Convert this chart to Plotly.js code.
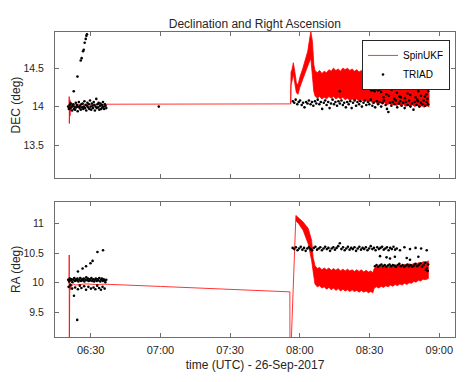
<!DOCTYPE html>
<html>
<head>
<meta charset="utf-8">
<script src="https://cdn.plot.ly/plotly-3.0.1.min.js"></script>
<style>html,body{margin:0;padding:0;background:#fff;}#chart{width:474px;height:382px;}</style>
</head>
<body>
<div id="chart"></div>
<script>
// ---- time values are minutes after 06:00 UTC, 26-Sep-2017 ----
// SpinUKF DEC: single-line part (start transient + flat segment)
const decUkfLineT = [20.7, 20.75, 20.8, 20.85, 20.9, 21.0, 21.1, 21.25, 21.4, 21.6, 21.8, 22.0, 22.5, 23.0, 30.0, 40.0, 60.0, 80.0, 100.0, 115.7, 116.05];
const decUkfLineV = [14.03, 14.13, 13.78, 14.12, 13.82, 14.09, 13.88, 14.07, 13.94, 14.05, 13.99, 14.04, 14.02, 14.03, 14.03, 14.03, 14.03, 14.03, 14.035, 14.035, 14.04];
// SpinUKF DEC: oscillation band envelopes
const decBandUpT = [116.05, 116.2, 116.6, 117.2, 117.8, 118.5, 119.2, 120.0, 121.3, 122.6, 123.4, 124.3, 124.75, 125.4, 126.0,
  126.5, 127.5, 128.5, 129.5, 130.5, 131.5, 132.5, 133.5, 134.5, 135.5, 136.5, 137.5, 138.5, 139.5, 140.5, 141.5, 142.5, 143.5, 144.5, 145.5,
  146.5, 147.5, 148.5, 149.5, 150.5, 151.5, 152.5, 153.5, 154.5, 155.5, 156.5, 157.5, 158.5, 159.5, 160.5, 161.5, 162.5, 163.5, 164.5, 165.5,
  166.5, 167.5, 168.5, 169.5, 170.5, 171.5, 172.5, 173.5, 174.5, 175.6];
const decBandUpV = [14.04, 14.45, 14.48, 14.57, 14.46, 14.31, 14.28, 14.38, 14.50, 14.62, 14.72, 14.90, 14.97, 14.85, 14.55,
  14.47, 14.44, 14.47, 14.43, 14.46, 14.44, 14.48, 14.46, 14.50, 14.47, 14.49, 14.46, 14.50, 14.48, 14.50, 14.47, 14.49, 14.46, 14.48, 14.45,
  14.47, 14.44, 14.45, 14.40, 14.41, 14.37, 14.38, 14.35, 14.38, 14.34, 14.36, 14.32, 14.34, 14.31, 14.34, 14.30, 14.33, 14.30, 14.32, 14.28,
  14.31, 14.28, 14.31, 14.27, 14.30, 14.27, 14.30, 14.27, 14.30, 14.28];
const decBandLoT = [116.05, 116.2, 116.6, 117.2, 117.8, 118.5, 119.2, 120.0, 121.3, 122.6, 123.4, 124.3, 124.75, 125.4, 126.0,
  126.5, 127.5, 128.5, 129.5, 130.5, 131.5, 132.5, 133.5, 134.5, 135.5, 136.5, 137.5, 138.5, 139.5, 140.5, 141.5, 142.5, 143.5, 144.5, 145.5,
  146.5, 147.5, 148.5, 149.5, 150.5, 151.5, 152.5, 153.5, 154.5, 155.5, 156.5, 157.5, 158.5, 159.5, 160.5, 161.5, 162.5, 163.5, 164.5, 165.5,
  166.5, 167.5, 168.5, 169.5, 170.5, 171.5, 172.5, 173.5, 174.5, 175.6];
const decBandLoV = [14.03, 14.28, 14.33, 14.42, 14.30, 14.18, 14.16, 14.25, 14.36, 14.46, 14.52, 14.60, 14.62, 14.40, 14.20,
  14.14, 14.11, 14.13, 14.10, 14.12, 14.10, 14.13, 14.11, 14.13, 14.10, 14.12, 14.10, 14.12, 14.09, 14.11, 14.08, 14.10, 14.08, 14.10, 14.07,
  14.09, 14.07, 14.08, 14.05, 14.07, 14.04, 14.06, 14.03, 14.05, 14.03, 14.05, 14.02, 14.04, 14.02, 14.04, 14.01, 14.03, 14.01, 14.03, 14.00,
  14.02, 14.00, 14.02, 14.00, 14.02, 13.99, 14.01, 13.99, 14.01, 14.00];

// SpinUKF RA: single-line part
const raUkfLineT = [20.7, 20.75, 20.8, 20.85, 20.95, 21.05, 21.2, 21.35, 21.5, 21.7, 22.0, 22.5, 23.5, 25, 28, 32, 36, 60, 90, 115.7, 115.75, 116.2, 118.3];
const raUkfLineV = [9.97, 10.47, 8.9, 9.95, 9.82, 10.0, 9.88, 9.98, 9.92, 9.97, 9.95, 9.98, 9.96, 9.97, 9.98, 9.97, 9.975, 9.937, 9.888, 9.845, 8.9, 8.9, 11.14];
// SpinUKF RA: oscillation band envelopes
const raBandUpT = [118.3, 119.5, 121.4, 123.6, 125.05, 125.7,
  126.5, 127.5, 128.5, 129.5, 130.5, 131.5, 132.5, 133.5, 134.5, 135.5, 136.5, 137.5, 138.5, 139.5, 140.5, 141.5, 142.5, 143.5, 144.5, 145.5,
  146.5, 147.5, 148.5, 149.5, 150.5, 151.4, 152.0, 153, 154, 155, 156, 157, 158, 159, 160, 161, 162, 163, 164, 165, 166, 167, 168, 169,
  170, 171, 172, 173, 174, 175.3];
const raBandUpV = [11.14, 11.10, 11.03, 10.92, 10.72, 10.43,
  10.29, 10.24, 10.26, 10.22, 10.25, 10.22, 10.25, 10.21, 10.24, 10.21, 10.24, 10.20, 10.23, 10.20, 10.23, 10.20, 10.22, 10.19, 10.22, 10.19,
  10.22, 10.18, 10.21, 10.18, 10.20, 10.17, 10.24, 10.27, 10.25, 10.28, 10.26, 10.29, 10.26, 10.29, 10.27, 10.30, 10.28, 10.31, 10.28, 10.31,
  10.29, 10.32, 10.30, 10.33, 10.31, 10.34, 10.32, 10.36, 10.34, 10.37];
const raBandLoT = [118.3, 119.5, 121.4, 123.6, 125.05,
  126.5, 127.5, 128.5, 129.5, 130.5, 131.5, 132.5, 133.5, 134.5, 135.5, 136.5, 137.5, 138.5, 139.5, 140.5, 141.5, 142.5, 143.5, 144.5, 145.5,
  146.5, 147.5, 148.5, 149.5, 150.5, 151.4, 152.0, 153, 154, 155, 156, 157, 158, 159, 160, 161, 162, 163, 164, 165, 166, 167, 168, 169,
  170, 171, 172, 173, 174, 175.3];
const raBandLoV = [11.05, 11.00, 10.89, 10.66, 10.38,
  9.98, 9.93, 9.95, 9.91, 9.93, 9.89, 9.92, 9.88, 9.91, 9.87, 9.90, 9.86, 9.89, 9.86, 9.88, 9.85, 9.88, 9.85, 9.87, 9.84,
  9.87, 9.84, 9.86, 9.83, 9.85, 9.83, 9.91, 9.93, 9.91, 9.94, 9.92, 9.95, 9.93, 9.96, 9.94, 9.97, 9.95, 9.98, 9.96, 9.99,
  9.97, 10.00, 9.99, 10.02, 10.01, 10.04, 10.03, 10.06, 10.05, 10.07];

// TRIAD DEC points
const decTriadT = [
  20.3, 20.6, 20.9, 21.2, 21.4, 21.7, 22.0, 22.2, 22.5, 22.8, 23.0, 23.3, 23.6, 23.8, 24.1, 24.4, 24.6, 24.9, 25.2, 25.4,
  25.7, 26.0, 26.2, 26.5, 26.8, 27.0, 27.3, 27.6, 27.8, 28.1, 28.4, 28.6, 28.9, 29.2, 29.4, 29.7, 30.0, 30.2, 30.5, 30.8,
  31.0, 31.3, 31.6, 31.8, 32.1, 32.4, 32.6, 32.9, 33.2, 33.4, 33.7, 34.0, 34.2, 34.5, 34.8, 35.0, 35.3, 35.6, 35.8, 36.1,
  36.4, 36.7,
  22.7, 24.3, 25.7, 26.1, 26.7, 27.0, 27.4, 27.85, 28.15, 28.4,
  59.3,
  117.0, 117.6, 118.2, 118.9, 119.5, 120.1, 120.8, 121.4, 122.0, 122.7, 123.3, 123.9, 124.6, 125.2, 125.8, 126.5, 127.1, 127.7, 128.4, 129.0,
  129.6, 130.3, 130.9, 131.5, 132.2, 132.8, 133.4, 134.1, 134.7, 135.3, 136.0, 136.6, 137.2, 137.9, 138.5, 139.1, 139.8, 140.4, 141.0, 141.7,
  142.3, 142.9, 143.6, 144.2, 144.8, 145.5, 146.1, 146.7, 147.4, 148.0, 148.6, 149.3, 149.9, 150.5, 151.2, 151.8, 152.4, 153.1, 153.7, 154.3,
  155.0, 155.6, 156.2, 156.9, 157.5, 158.1, 158.8, 159.4, 160.0, 160.7, 161.3, 161.9, 162.6, 163.2, 163.8, 164.5, 165.1, 165.7, 166.4, 167.0,
  167.6, 168.3, 168.9, 169.5, 170.2, 170.8, 171.4, 172.1, 172.7, 173.3, 174.0, 174.6, 175.2,
  137.2, 150.8, 151.5, 152.2, 152.9, 153.6, 154.3, 155.0, 156.0, 157.2, 158.3, 159.5, 160.6, 161.8, 162.9, 164.1, 165.2, 166.4, 167.5, 168.7,
  169.8, 171.0, 172.1, 173.3, 174.4, 175.2, 174.9, 173.8, 170.5, 163.5
];
const decTriadV = [
  14.00, 13.97, 14.02, 13.98, 14.04, 13.99, 13.95, 14.01, 14.03, 13.97, 14.00, 13.96, 14.05, 13.99, 14.02, 13.94, 14.00, 14.06, 13.98, 14.01,
  13.96, 14.03, 13.99, 14.04, 13.97, 14.00, 14.07, 13.98, 14.02, 13.95, 14.01, 14.05, 13.99, 14.03, 13.97, 14.08, 14.00, 13.96, 14.04, 14.01,
  13.98, 14.06, 14.02, 13.95, 14.00, 14.10, 13.98, 14.03, 13.99, 14.05, 13.96, 14.01, 14.04, 13.97, 14.02, 13.99, 14.06, 14.00, 13.97, 14.03,
  14.01, 13.98,
  14.20, 14.39, 14.60, 14.63, 14.72, 14.74, 14.83, 14.88, 14.92, 14.94,
  14.00,
  14.07, 14.05, 14.09, 14.03, 14.06, 14.08, 14.02, 14.05, 13.99, 14.06, 14.04, 14.08, 14.03, 14.06, 14.01, 14.07, 14.04, 14.09, 14.03, 14.06,
  13.97, 14.05, 14.08, 14.02, 14.06, 13.98, 14.04, 14.09, 14.03, 14.06, 14.01, 14.07, 14.04, 14.08, 14.02, 14.05, 13.99, 14.06, 14.03, 14.07,
  13.98, 14.05, 14.08, 14.01, 14.06, 14.03, 14.07, 14.00, 14.05, 14.08, 14.02, 14.06, 14.03, 14.09, 14.01, 14.05, 13.99, 14.07, 14.03, 14.06,
  14.00, 14.05, 14.08, 14.02, 13.97, 13.93, 14.05, 14.01, 14.06, 14.03, 14.08, 13.99, 14.04, 14.07, 14.01, 14.05, 13.98, 14.06, 14.02, 14.08,
  14.00, 14.04, 13.96, 14.06, 14.02, 14.07, 14.00, 14.05, 14.03, 14.08, 14.01, 14.06, 14.03,
  14.20, 14.21, 14.22, 14.20, 14.23, 14.21, 14.22, 14.19, 14.12, 14.16, 14.14, 14.22, 14.10, 14.18, 14.13, 14.24, 14.11, 14.17, 14.15, 14.26,
  14.12, 14.20, 14.14, 14.24, 14.16, 14.20, 14.10, 14.13, 14.09, 14.12
];

// TRIAD RA points
const raTriadT = [
  20.3, 20.7, 21.0, 21.4, 21.8, 22.1, 22.5, 22.9, 23.2, 23.6, 24.0, 24.3, 24.7, 25.1, 25.5, 25.8, 26.2, 26.6, 27.0, 27.3,
  27.7, 28.1, 28.5, 28.8, 29.2, 29.6, 30.0, 30.3, 30.7, 31.1, 31.5, 31.8, 32.2, 32.6, 33.0, 33.3, 33.7, 34.1, 34.5, 34.8,
  35.2, 35.6, 36.0, 36.3, 36.7,
  20.5, 21.3, 22.0, 23.3, 24.5, 25.3, 26.0, 27.2, 28.0, 29.0, 30.1, 31.2, 32.0, 32.8, 33.6, 34.4, 35.1, 36.0, 22.8, 24.2,
  24.5, 26.5, 28.0, 29.9, 30.8, 32.9, 35.3,
  116.9, 117.6, 118.3, 119.0, 119.7, 120.4, 121.1, 121.8, 122.5, 123.2, 123.9, 124.6, 125.3, 126.0, 126.7, 127.4, 128.1, 128.8, 129.5, 130.2,
  130.9, 131.6, 132.3, 133.0, 133.7, 134.4, 135.1, 135.8, 136.5, 137.2, 137.9, 138.6, 139.3, 140.0, 140.7, 141.4, 142.1, 142.8, 143.5, 144.2,
  144.9, 145.6, 146.3, 147.0, 147.7, 148.4, 149.1, 149.8, 150.5, 151.2, 151.9, 152.6, 153.3, 154.0, 154.7, 155.4, 156.1, 156.8, 157.5, 158.2,
  158.9, 159.6, 160.3, 161.0, 161.7, 163.1, 165.0, 167.4, 169.8, 172.2, 174.6,
  152.3, 153.0, 153.7, 154.4, 155.1, 155.8, 156.5, 157.2, 157.9, 158.6, 159.3, 160.0, 160.7, 161.4, 162.1, 162.8, 163.5, 164.2, 164.9, 165.6,
  166.3, 167.0, 167.7, 168.4, 169.1, 169.8, 170.5, 171.2, 171.9, 172.6, 173.3, 174.0, 174.7, 175.2, 175.0, 174.2,
  154.5, 157.3, 158.8, 160.9, 166.0, 167.4, 171.0
];
const raTriadV = [
  10.05, 10.02, 10.07, 10.04, 10.06, 10.01, 10.05, 10.08, 10.03, 10.06, 10.04, 10.07, 10.02, 10.05, 10.08, 10.03, 10.06, 10.04, 10.07, 10.02,
  10.05, 10.09, 10.04, 10.07, 10.03, 10.06, 10.04, 10.08, 10.03, 10.06, 10.02, 10.05, 10.07, 10.03, 10.06, 10.04, 10.08, 10.02, 10.05, 10.07,
  10.03, 10.06, 10.04, 10.01, 10.05,
  9.93, 9.96, 9.90, 9.92, 9.89, 9.95, 9.91, 9.94, 9.88, 9.93, 9.90, 9.92, 9.89, 9.95, 9.91, 9.88, 9.93, 9.90, 9.78, 9.37,
  10.19, 10.24, 10.28, 10.33, 10.37, 10.52, 10.55,
  10.59, 10.57, 10.60, 10.55, 10.58, 10.61, 10.56, 10.59, 10.54, 10.58, 10.60, 10.57, 10.55, 10.59, 10.61, 10.56, 10.58, 10.60, 10.55, 10.58,
  10.61, 10.57, 10.59, 10.54, 10.58, 10.60, 10.56, 10.59, 10.62, 10.67, 10.57, 10.60, 10.55, 10.58, 10.61, 10.56, 10.59, 10.57, 10.60, 10.54,
  10.58, 10.61, 10.56, 10.59, 10.57, 10.60, 10.55, 10.58, 10.62, 10.57, 10.59, 10.55, 10.60, 10.57, 10.59, 10.61, 10.56, 10.58, 10.60, 10.55,
  10.59, 10.57, 10.61, 10.56, 10.58, 10.55, 10.60, 10.57, 10.59, 10.58, 10.55,
  10.28, 10.30, 10.27, 10.29, 10.31, 10.28, 10.30, 10.27, 10.29, 10.31, 10.28, 10.30, 10.29, 10.27, 10.30, 10.32, 10.28, 10.30, 10.27, 10.29,
  10.31, 10.28, 10.30, 10.27, 10.29, 10.32, 10.28, 10.30, 10.33, 10.27, 10.30, 10.34, 10.25, 10.31, 10.20, 10.22,
  10.45, 10.43, 10.41, 10.44, 10.42, 10.39, 10.44
];

// axis ticks
const xTickMin = [30, 60, 90, 120, 150, 180];
const xTickText = ['06:30', '07:00', '07:30', '08:00', '08:30', '09:00'];
const decTicks = [13.5, 14, 14.5];
const decTickText = ['13.5', '14', '14.5'];
const raTicks = [9.5, 10, 10.5, 11];
const raTickText = ['9.5', '10', '10.5', '11'];

// ---- helpers ----
function pad(n) { return (n < 10 ? '0' : '') + n; }
function toTime(m) {
  const s = Math.round(m * 60);
  const h = 6 + Math.floor(s / 3600);
  const mm = Math.floor((s % 3600) / 60);
  const ss = s % 60;
  return '2017-09-26 ' + pad(h) + ':' + pad(mm) + ':' + pad(ss);
}
const tt = a => a.map(toTime);
function polyX(up, lo) { return tt(up.concat(lo.slice().reverse())); }
function polyY(up, lo) { return up.concat(lo.slice().reverse()); }

const RED = '#ff0000';
const traces = [
  { x: tt(decUkfLineT), y: decUkfLineV, xaxis: 'x', yaxis: 'y', type: 'scatter', mode: 'lines',
    line: { color: RED, width: 0.8 }, name: 'SpinUKF', legendgroup: 'ukf', showlegend: true },
  { x: polyX(decBandUpT, decBandLoT), y: polyY(decBandUpV, decBandLoV), xaxis: 'x', yaxis: 'y', type: 'scatter', mode: 'lines',
    fill: 'toself', fillcolor: RED, line: { color: RED, width: 0.8 }, legendgroup: 'ukf', showlegend: false },
  { x: tt(raUkfLineT), y: raUkfLineV, xaxis: 'x2', yaxis: 'y2', type: 'scatter', mode: 'lines',
    line: { color: RED, width: 0.8 }, legendgroup: 'ukf', showlegend: false },
  { x: polyX(raBandUpT, raBandLoT), y: polyY(raBandUpV, raBandLoV), xaxis: 'x2', yaxis: 'y2', type: 'scatter', mode: 'lines',
    fill: 'toself', fillcolor: RED, line: { color: RED, width: 0.8 }, legendgroup: 'ukf', showlegend: false },
  { x: tt(decTriadT), y: decTriadV, xaxis: 'x', yaxis: 'y', type: 'scatter', mode: 'markers',
    marker: { color: '#000', size: 2.6 }, name: 'TRIAD', legendgroup: 'triad', showlegend: true },
  { x: tt(raTriadT), y: raTriadV, xaxis: 'x2', yaxis: 'y2', type: 'scatter', mode: 'markers',
    marker: { color: '#000', size: 2.6 }, legendgroup: 'triad', showlegend: false }
];

const FONT = 'Liberation Sans, Arial, sans-serif';
const AX = '#6e6e6e';
const xRange = ['2017-09-26 06:14:38', '2017-09-26 09:06:46'];
const xCommon = {
  type: 'date', range: xRange, tickvals: tt(xTickMin), ticktext: xTickText,
  ticks: 'inside', ticklen: 4, tickcolor: AX, showline: true, linecolor: AX, linewidth: 1,
  mirror: 'ticks', showgrid: false, zeroline: false, tickfont: { family: FONT, size: 11, color: '#262626' }
};
const yCommon = {
  ticks: 'inside', ticklen: 4, tickcolor: AX, showline: true, linecolor: AX, linewidth: 1,
  mirror: 'ticks', showgrid: false, zeroline: false, tickfont: { family: FONT, size: 10.5, color: '#262626' },
  ticklabelstandoff: 8
};

const layout = {
  width: 474, height: 382,
  margin: { l: 55, r: 19, t: 32, b: 45.3, pad: 0 },
  paper_bgcolor: '#fff', plot_bgcolor: '#fff',
  font: { family: FONT, color: '#262626' },
  title: { text: 'Declination and Right Ascension', font: { family: FONT, size: 12, color: '#262626' },
           x: 0.5375, xanchor: 'center', y: 0.937, yanchor: 'middle' },
  xaxis: Object.assign({}, xCommon, { anchor: 'y', domain: [0, 1], showticklabels: false }),
  xaxis2: Object.assign({}, xCommon, { anchor: 'y2', domain: [0, 1], ticklabelstandoff: 3,
    title: { text: 'time (UTC) - 26-Sep-2017', font: { family: FONT, size: 12, color: '#262626' }, standoff: 5 } }),
  yaxis: Object.assign({}, yCommon, { domain: [0.521, 1], range: [13.07, 14.97], tickvals: decTicks, ticktext: decTickText,
    title: { text: 'DEC (deg)', font: { family: FONT, size: 12, color: '#262626' }, standoff: 0 } }),
  yaxis2: Object.assign({}, yCommon, { domain: [0, 0.443], range: [9.08, 11.37], tickvals: raTicks, ticktext: raTickText,
    title: { text: 'RA (deg)', font: { family: FONT, size: 12, color: '#262626' }, standoff: 0 } }),
  showlegend: true,
  legend: { x: 0.9875, xanchor: 'right', y: 0.974, yanchor: 'top', bgcolor: '#fff', bordercolor: '#262626', borderwidth: 1,
            font: { family: FONT, size: 10, color: '#000' }, itemwidth: 30, tracegroupgap: 0 }
};

Plotly.newPlot('chart', traces, layout, { staticPlot: true, displayModeBar: false });
</script>
</body>
</html>
